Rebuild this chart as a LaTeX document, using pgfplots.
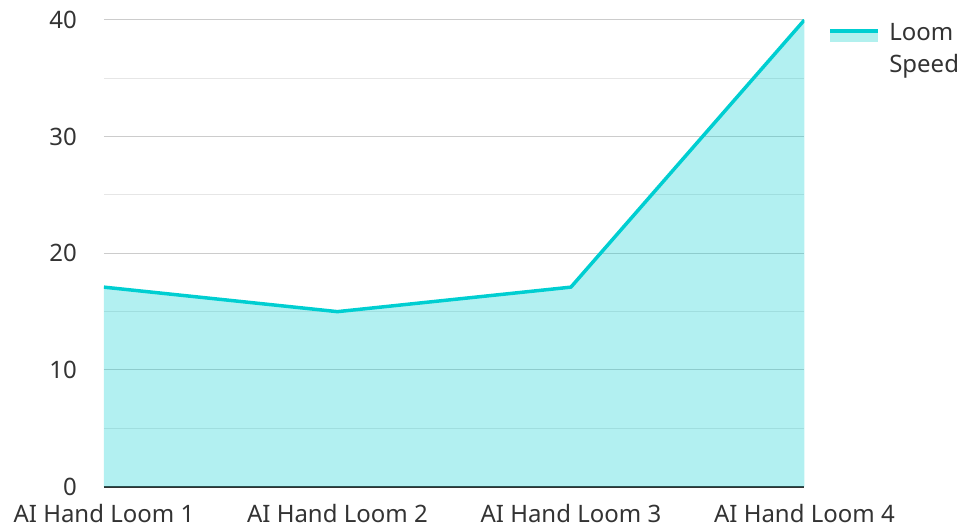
\documentclass[border=0pt]{standalone}
\usepackage{fontspec}
\setmainfont{Noto Sans}
\usepackage{pgfplots}
\pgfplotsset{compat=1.18}
\definecolor{dt}{HTML}{00CED1}
\definecolor{dtfill}{HTML}{B2F0EE}
\definecolor{majgrid}{HTML}{CCCCCC}
\definecolor{mingrid}{HTML}{E6E6E6}
\definecolor{axisdark}{HTML}{333333}
\definecolor{lbl}{HTML}{333333}
\begin{document}
\fontsize{24}{32}\selectfont
\begin{tikzpicture}
\path (-104pt,-41pt) rectangle (858pt,487pt);
\begin{axis}[
  set layers,
  scale only axis,
  width=701pt, height=467pt,
  xmin=0, xmax=3, ymin=0, ymax=40,
  xtick={0,1,2,3},
  xticklabels={AI Hand Loom 1, AI Hand Loom 2, AI Hand Loom 3, AI Hand Loom 4},
  ytick={0,10,20,30,40},
  minor ytick={5,15,25,35},
  ymajorgrids, yminorgrids,
  major grid style={draw=majgrid, line width=1pt},
  minor grid style={draw=mingrid, line width=1pt},
  axis x line*=bottom, axis y line*=left,
  x axis line style={draw=axisdark, line width=2pt, -},
  y axis line style={draw=none},
  major tick length=0pt, minor tick length=0pt,
  tick style={draw=none},
  /pgf/number format/assume math mode=true,
  ticklabel style={font=\fontsize{24}{28}\selectfont, text=lbl},
  yticklabel style={inner sep=0pt, anchor=east, xshift=-27pt},
  xticklabel style={inner sep=0pt, anchor=north, yshift=-17pt},
  legend style={at={(1,1)}, anchor=north west, xshift=21pt, yshift=-1pt, draw=none, fill=none,
    font=\fontsize{24}{32}\selectfont, text=lbl,
    nodes={align=left, inner sep=0pt}},
  legend cell align=left,
  legend image code/.code={
    \path[draw=none, fill=none] (0pt,-1.75pt) rectangle (59pt,19.75pt);
    \fill[dtfill, draw=none] (0pt,8pt) rectangle (48pt,18.5pt);
    \draw[dt, line width=3.5pt, fill=none] (0pt,18.5pt) -- (48pt,18.5pt);
  },
]
\addplot[fill=dt, fill opacity=0.3, draw=none, forget plot] coordinates {(0,17.1) (1,15) (2,17.1) (3,40)} \closedcycle;
\addplot[dt, line width=3.5pt, line join=round] coordinates {(0,17.1) (1,15) (2,17.1) (3,40)};
\addlegendentry{Loom\\Speed}
\end{axis}
\end{tikzpicture}
\end{document}
